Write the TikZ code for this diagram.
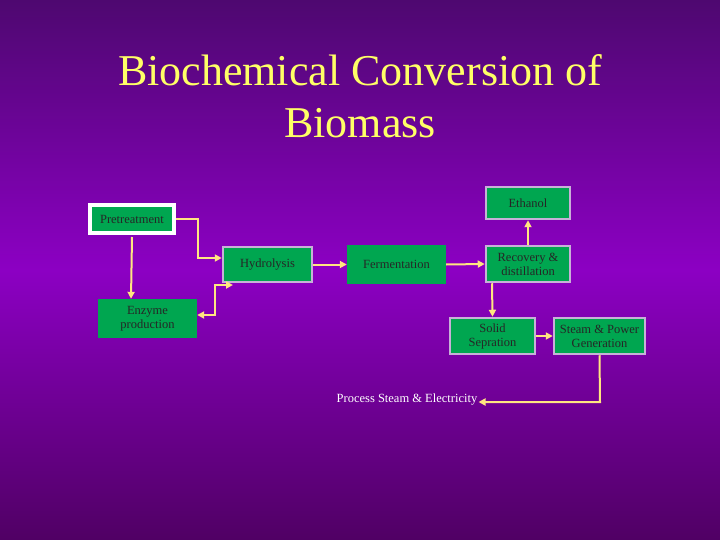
\documentclass[tikz,border=0pt]{standalone}
\usepackage{fontspec}
\setmainfont{Liberation Serif}
\usetikzlibrary{arrows.meta}
\definecolor{bxg}{HTML}{00A650}
\definecolor{lnc}{HTML}{FFE680}
\definecolor{ttl}{HTML}{FFFF66}
\definecolor{bord}{HTML}{C8B0D8}
\definecolor{bgtop}{RGB}{78,8,112}
\definecolor{bgmid}{RGB}{140,0,195}
\definecolor{bgbot}{RGB}{80,0,100}
\begin{document}
\begin{tikzpicture}[x=1pt,y=-1pt,
  box/.style={fill=bxg,inner sep=0pt,align=center,font=\fontsize{12.5}{14}\selectfont,text=black!85},
  bbox/.style={box,draw=bord,line width=2.5pt},
  conn/.style={draw=lnc,line width=2pt,-{Triangle[length=7pt,width=7pt]}}]
\shade[top color=bgtop,bottom color=bgbot,middle color=bgmid] (0,0) rectangle (720,540);
\useasboundingbox (0,0) rectangle (720,540);
\node[text=ttl,font=\fontsize{44}{52}\selectfont,align=center] (title) at (360,96) {Biochemical Conversion of\\Biomass};
\node[box,draw=white,line width=4pt,minimum width=84pt,minimum height=28pt] (pre) at (132,219) {Pretreatment};
\node[bbox,minimum width=89pt,minimum height=35pt] (hyd) at (267.5,264.5) {Hydrolysis};
\node[box,minimum width=99pt,minimum height=39pt] (fer) at (396.5,264.5) {Fermentation};
\node[box,minimum width=99pt,minimum height=39pt] (enz) at (147.5,318.5) {Enzyme\\production};
\node[bbox,minimum width=84pt,minimum height=32pt] (eth) at (528,203) {Ethanol};
\node[bbox,minimum width=84pt,minimum height=36pt] (rec) at (528,264) {Recovery \&\\distillation};
\node[bbox,minimum width=85pt,minimum height=36pt] (sol) at (492.5,336) {Solid\\Sepration};
\node[bbox,minimum width=91pt,minimum height=36pt] (stm) at (599.5,336) {Steam \& Power\\Generation};
\node[text=white,font=\fontsize{12.5}{14}\selectfont,inner sep=1pt] (proc) at (407,400) {Process Steam \& Electricity};
\draw[conn] (pre.east) -| (198,258) -- (hyd.west |- 0,258);
\draw[conn] (pre.south) ++(0,2) -- (enz.north -| 131,0);
\draw[conn,{Triangle[length=7pt,width=7pt]}-{Triangle[length=7pt,width=7pt]}] (enz.east |- 0,315) -- (215,315) -- (215,285) -- (233,285);
\draw[conn] (hyd.east) -- (fer.west);
\draw[conn] (fer.east) -- (rec.west);
\draw[conn] (rec.north) -- (eth.south);
\draw[conn] (rec.south -| 492,0) -- (sol.north);
\draw[conn] (sol.east) -- (stm.west);
\draw[conn] (stm.south) -- (600,402) -- (proc.east |- 0,402);
\end{tikzpicture}
\end{document}
